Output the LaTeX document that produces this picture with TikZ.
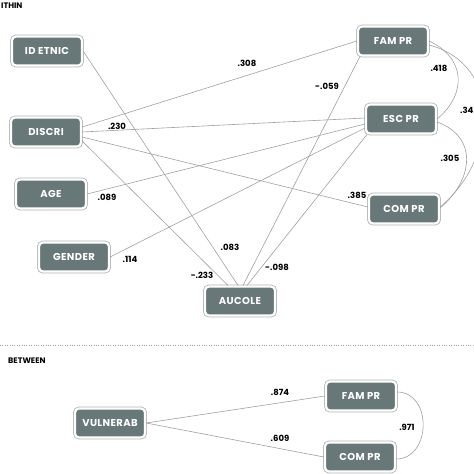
\documentclass[tikz,border=0pt]{standalone}
\usepackage{fontspec}
\setmainfont{Poppins}
\newfontfamily\boxfont{Poppins}[LetterSpace=4]
\definecolor{boxfill}{HTML}{687878}
\definecolor{ringgray}{HTML}{B0B4B4}
\definecolor{linegray}{HTML}{A0A0A0}
\begin{document}
\begin{tikzpicture}[x=1pt, y=-1pt,
  var/.style={shape=rectangle, rounded corners=4pt, fill=boxfill, draw=white, line width=2.2pt,
    preaction={draw=ringgray, line width=3.8pt}, minimum width=70pt, minimum height=29pt,
    inner sep=0pt, text=white, font=\boxfont\bfseries\fontsize{10}{11}\selectfont},
  coef/.style={inner sep=0pt, font=\bfseries\fontsize{8.5}{9}\selectfont},
  head/.style={inner sep=0pt, anchor=west, font=\bfseries\fontsize{8}{9}\selectfont},
  link/.style={draw=linegray, line width=0.6pt}]
\useasboundingbox (0,0) rectangle (474,474);
% within
\node[head] (within) at (1, 6) {ITHIN};
\node[var] (ID) at (47, 51) {ID ETNIC};
\node[var] (DIS) at (46, 132) {DISCRI};
\node[var] (AGE) at (51, 194) {AGE};
\node[var] (GEN) at (74, 257) {GENDER};
\node[var] (AUC) at (240, 301) {AUCOLE};
\node[var] (FAM) at (393, 41) {FAM PR};
\node[var] (ESC) at (401, 119) {ESC PR};
\node[var] (COM) at (404, 209) {COM PR};
\draw[link] (ID.east) -- ([xshift=-2pt]AUC.north);
\draw[link] ([yshift=5pt]DIS.east) -- (FAM.west);
\draw[link] (DIS.east) -- ([yshift=1pt]ESC.west);
\draw[link] ([yshift=-5pt]DIS.east) -- ([yshift=2pt]COM.west);
\draw[link] ([yshift=-9pt]DIS.east) -- ([xshift=-12pt]AUC.north);
\draw[link] (AGE.east) -- ([yshift=-5pt]ESC.west);
\draw[link] (GEN.east) -- ([yshift=-9pt]ESC.west);
\draw[link] ([xshift=3pt]AUC.north) -- ([xshift=3pt]FAM.south west);
\draw[link] ([xshift=7pt]AUC.north) -- ([xshift=2pt]ESC.south west);
\draw[link] (FAM.east) to[out=-25, in=40, looseness=1.3] (ESC.east);
\draw[link] ([yshift=-4pt]FAM.east) to[out=-15, in=40, looseness=1.2] ([yshift=2pt]COM.east);
\draw[link] ([yshift=-3pt]ESC.east) to[out=-20, in=40, looseness=1.3] ([yshift=1pt]COM.east);
\node[coef] (c1) at (247, 63) {.308};
\node[coef] (c2) at (327, 86) {-.059};
\node[coef] (c3) at (439, 68) {.418};
\node[coef, anchor=west] (c4) at (460, 110) {.34};
\node[coef] (c5) at (117, 126) {.230};
\node[coef] (c6) at (450, 158) {.305};
\node[coef] (c7) at (357, 195) {.385};
\node[coef] (c8) at (107, 197) {.089};
\node[coef] (c9) at (130, 259) {.114};
\node[coef] (c10) at (230, 247) {.083};
\node[coef] (c11) at (202, 275) {-.233};
\node[coef] (c12) at (277, 267) {-.098};
% between
\draw[linegray, dotted] (0, 345) -- (474, 345);
\node[head] (between) at (8, 361) {BETWEEN};
\node[var] (VUL) at (110, 423) {VULNERAB};
\node[var] (FAMB) at (361, 396) {FAM PR};
\node[var] (COMB) at (360, 457) {COM PR};
\draw[link] (VUL.east) -- (FAMB.west);
\draw[link] (VUL.east) -- (COMB.west);
\draw[link] ([yshift=4pt]FAMB.east) to[out=0, in=0, looseness=1.35] ([yshift=-2pt]COMB.east);
\node[coef] (c13) at (280, 392) {.874};
\node[coef] (c14) at (280, 438) {.609};
\node[coef] (c15) at (407, 427) {.971};
\end{tikzpicture}
\end{document}
